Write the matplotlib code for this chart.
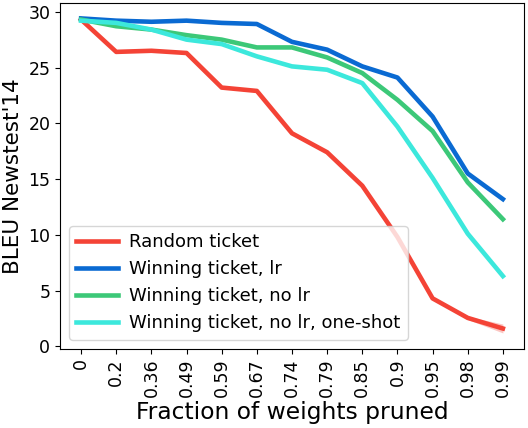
import numpy as np
import matplotlib.pyplot as plt

# fraction of weights pruned (categorical x axis)
fracs = ['0', '0.2', '0.36', '0.49', '0.59', '0.67', '0.74', '0.79', '0.85', '0.9', '0.95', '0.98', '0.99']

# BLEU scores
random_ticket = [29.3, 26.4, 26.5, 26.3, 23.2, 22.9, 19.1, 17.4, 14.4, 9.8, 4.3, 2.55, 1.6]
random_lo = [29.3, 26.4, 26.5, 26.3, 23.2, 22.9, 19.1, 17.4, 14.4, 9.8, 4.3, 2.4, 1.2]
random_hi = [29.3, 26.4, 26.5, 26.3, 23.2, 22.9, 19.1, 17.4, 14.4, 9.8, 4.3, 2.7, 2.0]
winning_lr = [29.4, 29.2, 29.1, 29.2, 29.0, 28.9, 27.3, 26.6, 25.1, 24.1, 20.6, 15.5, 13.2]
winning_nolr = [29.3, 28.7, 28.4, 27.9, 27.5, 26.8, 26.8, 25.9, 24.5, 22.1, 19.3, 14.7, 11.4]
winning_oneshot = [29.2, 29.0, 28.4, 27.5, 27.1, 26.0, 25.1, 24.8, 23.6, 19.7, 15.1, 10.1, 6.3]

x = np.arange(len(fracs))

fig = plt.figure(figsize=(5.28, 4.28), dpi=100)
ax = fig.add_axes([0.1136, 0.1853, 0.8788, 0.8084])

lw = 3.3
ax.plot(x, random_ticket, color='#f44336', lw=lw, label='Random ticket')
ax.fill_between(x, random_lo, random_hi, color='#f44336', alpha=0.3, lw=0)
ax.plot(x, winning_lr, color='#0a6ad2', lw=lw, label='Winning ticket, lr')
ax.plot(x, winning_nolr, color='#3cc878', lw=lw, label='Winning ticket, no lr')
ax.plot(x, winning_oneshot, color='#3ce8dc', lw=lw, label='Winning ticket, no lr, one-shot')

ax.set_xticks(x)
ax.set_xticklabels(fracs, rotation=90)
ax.tick_params(labelsize=12.5)
ax.set_yticks([0, 5, 10, 15, 20, 25, 30])
ax.set_xlabel('Fraction of weights pruned', fontsize=16.8, labelpad=3)
ax.set_ylabel("BLEU Newstest'14", fontsize=15.5, labelpad=4)
ax.legend(loc='lower left', fontsize=13.0, handlelength=2.3, handletextpad=0.65,
          labelspacing=0.5)

fig.savefig('out.png', dpi=100)
